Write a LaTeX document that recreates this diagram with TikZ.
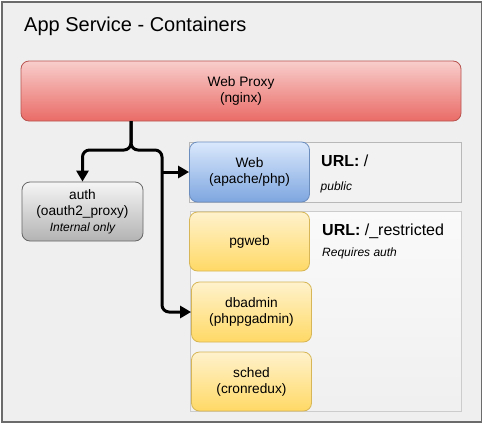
\documentclass[tikz,border=0pt]{standalone}
\usepackage{fontspec}
\setmainfont{Liberation Sans}
\usetikzlibrary{arrows.meta}
\definecolor{outerfill}{HTML}{EFEFEF}
\definecolor{outerdraw}{HTML}{6B6B6B}
\definecolor{redtop}{HTML}{F8CECC}
\definecolor{redbot}{HTML}{EA6B66}
\definecolor{reddraw}{HTML}{B85450}
\definecolor{bluetop}{HTML}{DAE8FC}
\definecolor{bluebot}{HTML}{7EA6E0}
\definecolor{bluedraw}{HTML}{6C8EBF}
\definecolor{yeltop}{HTML}{FFF2CC}
\definecolor{yelbot}{HTML}{FFD966}
\definecolor{yeldraw}{HTML}{D6B656}
\definecolor{greytop}{HTML}{F5F5F5}
\definecolor{greybot}{HTML}{B3B3B3}
\definecolor{greydraw}{HTML}{666666}
\definecolor{contdraw}{HTML}{B8B8B8}
\tikzset{
  box/.style={rounded corners=8pt, minimum width=120pt, minimum height=60pt,
    inner sep=0pt, align=center, font=\fontsize{13.7}{16}\selectfont, line width=0.8pt},
  redbox/.style={box, top color=redtop, bottom color=redbot, draw=reddraw},
  bluebox/.style={box, top color=bluetop, bottom color=bluebot, draw=bluedraw},
  yelbox/.style={box, top color=yeltop, bottom color=yelbot, draw=yeldraw},
  greybox/.style={box, top color=greytop, bottom color=greybot, draw=greydraw},
  conn/.style={line width=3pt, rounded corners=7pt, -{Triangle[width=12pt,length=11pt]}},
  urltext/.style={anchor=base west, inner sep=0pt, font=\fontsize{16}{18}\selectfont},
  notetext/.style={anchor=base west, inner sep=0pt, font=\fontsize{12}{14}\selectfont\itshape},
}
\begin{document}
\begin{tikzpicture}[x=1pt,y=-1pt]
\useasboundingbox (0,0) rectangle (485,426);
\fill[white] (0,0) rectangle (485,426);
\draw[fill=outerfill, draw=outerdraw, line width=1.6pt] (2,2) rectangle (481.5,422);
\node[anchor=base west, inner sep=0pt, font=\fontsize{20}{24}\selectfont] (title) at (24,31.5) {App Service - Containers};

% containers
\draw[fill=black!5, draw=contdraw, line width=0.8pt] (189,142) rectangle (461,202);
\draw[top color=white!98!black, bottom color=black!6, draw=black!20, line width=0.8pt] (190,211) rectangle (461,411.5);

% nodes
\node[redbox, minimum width=440pt] (proxy) at (241,91) {Web Proxy\\(nginx)};
\node[greybox, minimum width=121pt, minimum height=59pt] (auth) at (82.5,211.5)
  {auth\\(oauth2\_proxy)\\{\fontsize{12}{15}\selectfont\itshape Internal only}};
\node[bluebox] (web) at (249.5,172) {Web\\(apache/php)};
\node[yelbox, minimum height=59pt] (pgweb) at (249.5,241.5) {pgweb};
\node[yelbox] (dbadmin) at (251.5,312) {dbadmin\\(phppgadmin)};
\node[yelbox, minimum height=59pt] (sched) at (251.5,381.5) {sched\\(cronredux)};

\node[urltext] (url1) at (321,166) {\textbf{URL:} /};
\node[notetext] (pub) at (320.5,190) {public};
\node[urltext] (url2) at (322,235) {\textbf{URL:} /\_restricted};
\node[notetext] (req) at (322,256) {Requires auth};

% connectors
\coordinate (top) at (131,121);
\coordinate (j) at (131,150);
\coordinate (jl) at (82.5,150);
\coordinate (jr) at (162,150);
\coordinate (jd) at (162,312);
\coordinate (jw) at (162,172);
\draw[conn] (top) -- (j) -- (jl) -- (auth.north);
\draw[conn] (top) -- (j) -- (jr) -- (jd) -- (dbadmin.west);
\draw[conn, rounded corners=0pt] (jw) -- (web.west);
\end{tikzpicture}
\end{document}
